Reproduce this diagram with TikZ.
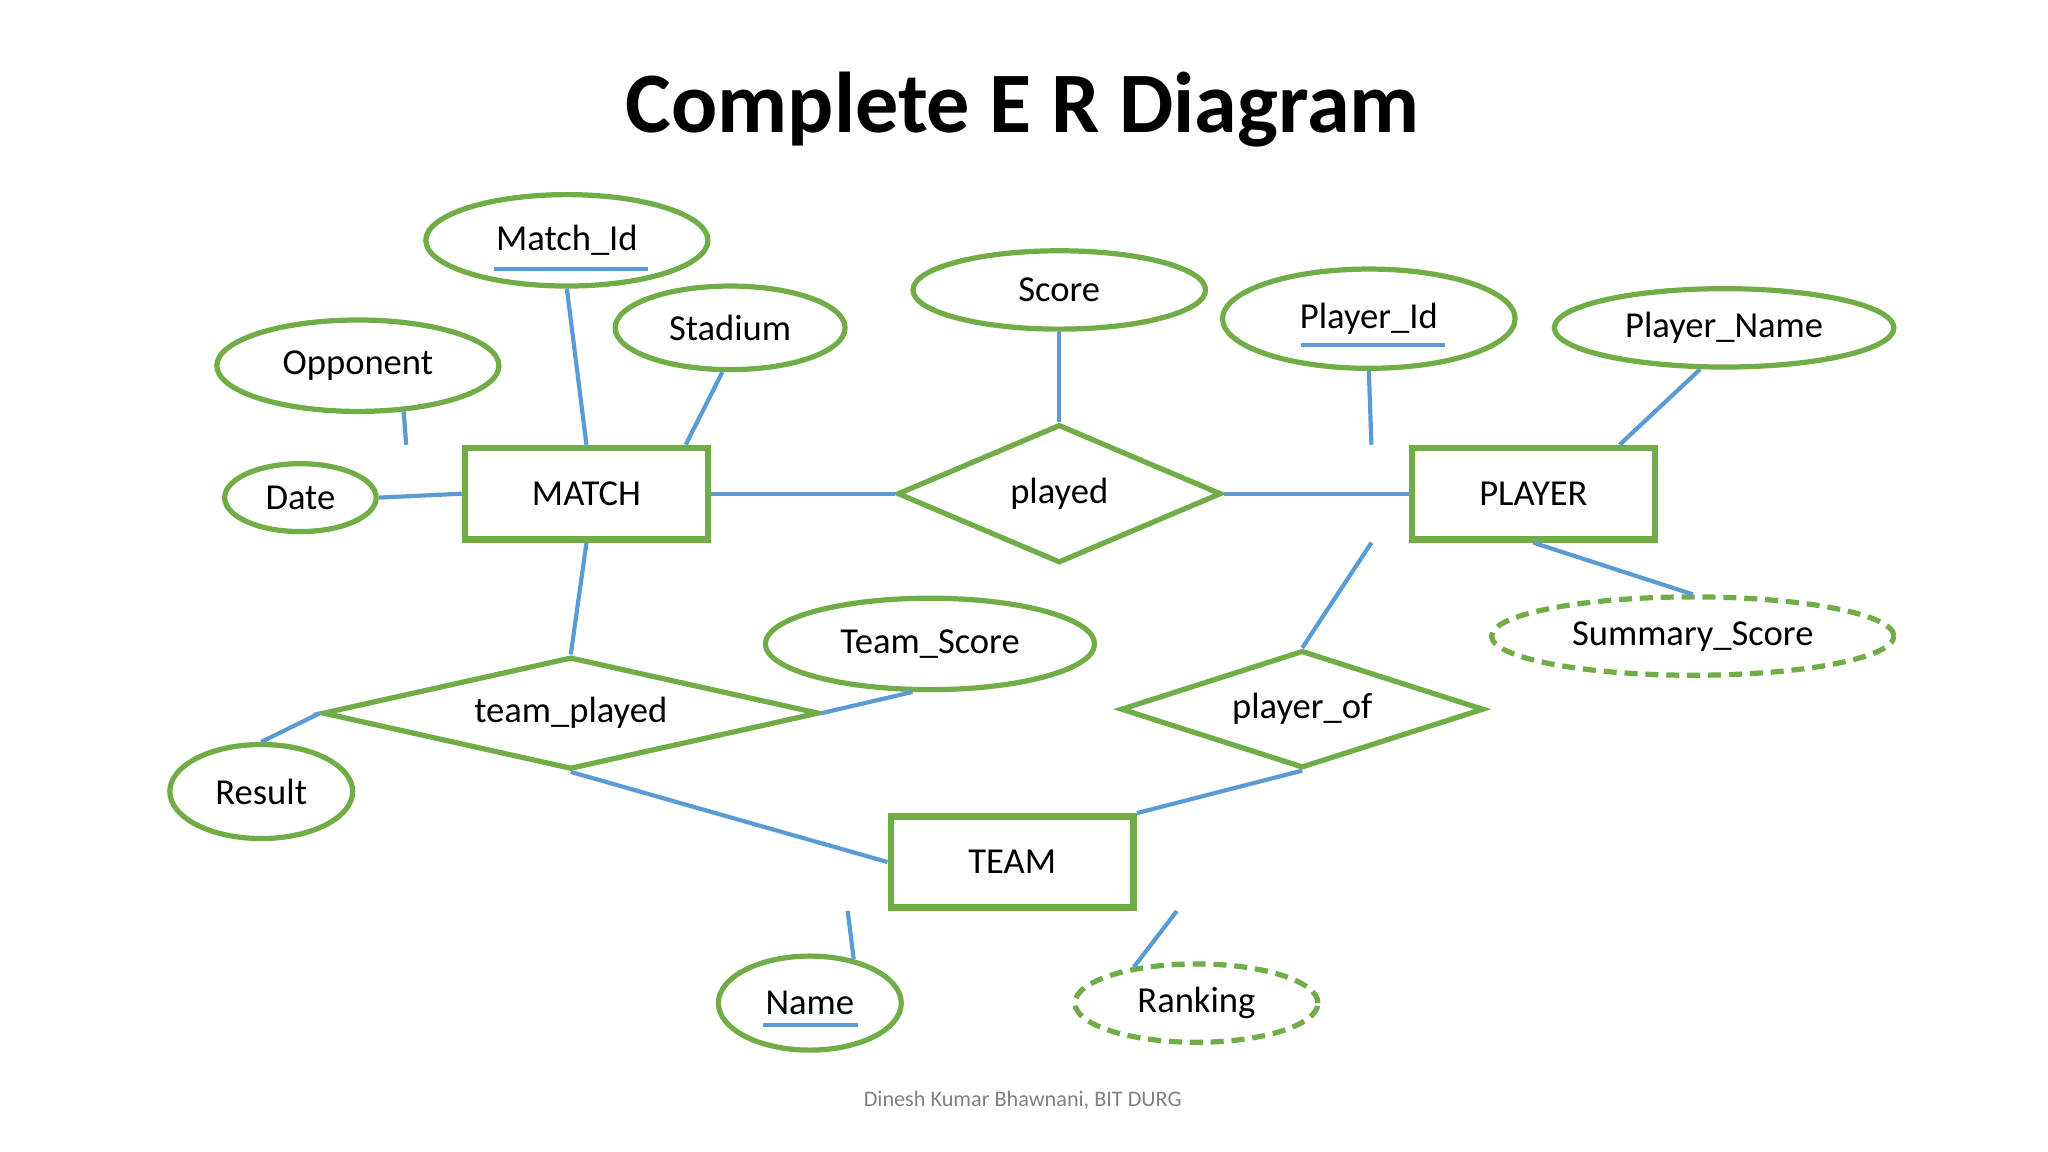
\documentclass[tikz,border=0pt]{standalone}
\usepackage{fontspec}
\setmainfont{Carlito}
\usetikzlibrary{shapes.geometric,calc}
\definecolor{grn}{RGB}{112,173,71}
\definecolor{blu}{RGB}{91,155,213}
\begin{document}
\begin{tikzpicture}[x=0.5pt,y=-0.5pt,
 attr/.style={ellipse,draw=grn,line width=2pt,inner sep=0pt,font=\fontsize{14}{16}\selectfont},
 der/.style={attr,dash pattern=on 5pt off 3pt},
 ent/.style={rectangle,draw=grn,line width=2.5pt,minimum width=93pt,minimum height=35pt,font=\fontsize{14}{16}\selectfont},
 rel/.style={diamond,draw=grn,line width=2pt,inner sep=0pt,font=\fontsize{14}{16}\selectfont},
 ln/.style={draw=blu,line width=1.6pt},
 ul/.style={draw=blu,line width=1.6pt}]
\useasboundingbox (0,0) rectangle (1568,882);
\node[font=\fontsize{33}{36}\selectfont\bfseries] (title) at (783,84) {Complete E R Diagram};
\node[attr,minimum width=108pt,minimum height=35pt] (matchid) at (434,184) {Match\_Id};
\node[attr,minimum width=88pt,minimum height=32pt] (stadium) at (559,251) {Stadium};
\node[attr,minimum width=108pt,minimum height=35pt] (opp) at (274,280) {Opponent};
\node[attr,minimum width=58pt,minimum height=26pt] (date) at (230,381) {Date};
\node[ent] (match) at (449,378) {MATCH};
\node[attr,minimum width=112pt,minimum height=30pt] (score) at (811,222) {Score};
\node[rel,minimum width=124pt,minimum height=53pt,aspect=2.34] (played) at (811,378) {played};
\node[attr,minimum width=112pt,minimum height=38pt] (pid) at (1048,244) {Player\_Id};
\node[attr,minimum width=130pt,minimum height=30pt] (pname) at (1320,251) {Player\_Name};
\node[ent] (player) at (1174,378) {PLAYER};
\node[der,minimum width=154pt,minimum height=30pt] (sumsc) at (1296,487) {Summary\_Score};
\node[rel,minimum width=190pt,minimum height=43pt,aspect=4.4] (tp) at (437,546) {team\_played};
\node[attr,minimum width=126pt,minimum height=35pt] (tscore) at (712,493) {Team\_Score};
\node[attr,minimum width=70pt,minimum height=36pt] (result) at (200,606) {Result};
\node[rel,minimum width=139pt,minimum height=45pt,aspect=3.1] (pof) at (997,543) {player\_of};
\node[ent] (team) at (775,660) {TEAM};
\node[attr,minimum width=70pt,minimum height=36pt] (name) at (620,768) {Name};
\node[der,minimum width=93pt,minimum height=30pt] (rank) at (916,768) {Ranking};
\node[text=gray,font=\fontsize{8.5}{10}\selectfont] (foot) at (783,842) {Dinesh Kumar Bhawnani, BIT DURG};
% underlines
\draw[ul] ($(matchid.center)+(-56,22)$) -- ($(matchid.center)+(62,22)$);
\draw[ul] ($(pid.center)+(-52,20)$) -- ($(pid.center)+(58,20)$);
\draw[ul] ($(name.center)+(-36,17)$) -- ($(name.center)+(37,17)$);
% connectors
\draw[ln] (matchid.south) -- ([xshift=0pt]match.north);
\draw[ln] (stadium.260) -- ([xshift=38]match.north);
\draw[ln] (opp.-45) -- ([xshift=-69]match.north);
\draw[ln] (date.east) -- (match.west);
\draw[ln] (match.east) -- (played.west);
\draw[ln] (played.east) -- (player.west);
\draw[ln] (score.south) -- (played.north);
\draw[ln] (pid.south) -- ([xshift=-62]player.north);
\draw[ln] (pname.240) -- ([xshift=33]player.north);
\draw[ln] (player.south) -- (sumsc.north);
\draw[ln] ([xshift=-62]player.south) -- (pof.north);
\draw[ln] (pof.south) -- (team.north east);
\draw[ln] (match.south) -- (tp.north);
\draw[ln] (tp.west) -- (result.north);
\draw[ln] (tp.east) -- (tscore.250);
\draw[ln] (tp.south) -- (team.west);
\draw[ln] ([xshift=-63]team.south) -- (name.45);
\draw[ln] ([xshift=63]team.south) -- (rank.150);
% redraw shapes on top
\end{tikzpicture}
\end{document}
